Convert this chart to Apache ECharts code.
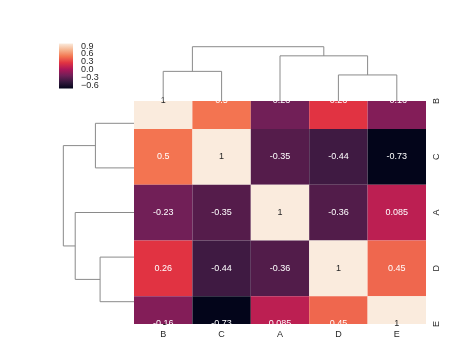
<!DOCTYPE html>
<html>
<head>
<meta charset="utf-8">
<script src="https://cdn.jsdelivr.net/npm/echarts@6/dist/echarts.min.js"></script>
<style>html,body{margin:0;padding:0;background:#fff;}#c{width:474px;height:364px;}</style>
</head>
<body>
<div id="c"></div>
<script>
const cols = ['B', 'C', 'A', 'D', 'E'];
const rows = ['B', 'C', 'A', 'D', 'E'];
const corrB = [1, 0.5, -0.23, 0.26, -0.16];
const corrC = [0.5, 1, -0.35, -0.44, -0.73];
const corrA = [-0.23, -0.35, 1, -0.36, 0.085];
const corrD = [0.26, -0.44, -0.36, 1, 0.45];
const corrE = [-0.16, -0.73, 0.085, 0.45, 1];
const corr = [corrB, corrC, corrA, corrD, corrE];
const cbarTicks = [-0.6, -0.3, 0.0, 0.3, 0.6, 0.9];
const vmin = -0.73, vmax = 1;
// dendrogram links (scipy-style icoord / dcoord)
const linkX = [[5, 5, 15, 15], [35, 35, 45, 45], [25, 25, 40, 40], [10, 10, 32.5, 32.5]];
const linkH = [[0, 0.546, 0.546, 0], [0, 0.48, 0.48, 0], [0, 0.832, 0.832, 0.48], [0.546, 1, 1, 0.832]];
const rocket = ['#03051a', '#35193e', '#701f57', '#ad1759', '#e13342', '#f37651', '#f6b48f', '#faebdd'];

const FONT = 'Liberation Sans, Arial, sans-serif';
const TXT = '#262626';
const DCOL = '#8a8a8a';

const cells = [];
rows.forEach((r, ri) => cols.forEach((c, ci) => cells.push([ci, ri, corr[ri][ci]])));

function relLum(c) {
  const a = echarts.color.parse(c);
  const f = x => { x /= 255; return x <= 0.03928 ? x / 12.92 : Math.pow((x + 0.055) / 1.055, 2.4); };
  return 0.2126 * f(a[0]) + 0.7152 * f(a[1]) + 0.0722 * f(a[2]);
}
function fmt2g(v) { return String(parseFloat(v.toPrecision(2))); }

const chart = echarts.init(document.getElementById('c'), null, {renderer: 'canvas'});

const series = [];
series.push({
  type: 'custom', xAxisIndex: 0, yAxisIndex: 0, data: cells, encode: {x: 0, y: 1},
  silent: true, animation: false,
  renderItem: function (params, api) {
    const x = api.value(0), y = api.value(1), v = api.value(2);
    const p1 = api.coord([x - 0.5, y - 0.5]);
    const p2 = api.coord([x + 0.5, y + 0.5]);
    const cs = params.coordSys;
    const rect = echarts.graphic.clipRectByRect({
      x: Math.min(p1[0], p2[0]), y: Math.min(p1[1], p2[1]),
      width: Math.abs(p2[0] - p1[0]), height: Math.abs(p2[1] - p1[1])
    }, {x: cs.x, y: cs.y, width: cs.width, height: cs.height});
    const color = api.visual('color');
    const ctr = api.coord([x, y]);
    const children = [];
    if (rect) children.push({type: 'rect', shape: rect, style: {fill: color}});
    children.push({type: 'text', x: ctr[0], y: ctr[1], style: {
      text: fmt2g(v), fill: relLum(color) > 0.408 ? TXT : '#ffffff',
      font: '9px ' + FONT, align: 'center', verticalAlign: 'middle'}});
    return {type: 'group', children: children};
  }
});
series.push({
  type: 'custom', xAxisIndex: 1, yAxisIndex: 1, data: [[0, vmin, 1, vmax]],
  silent: true, animation: false,
  renderItem: function (params, api) {
    const p1 = api.coord([0, vmax]);
    const p2 = api.coord([1, vmin]);
    const stops = rocket.map((c, i) => ({offset: 1 - i / (rocket.length - 1), color: c})).reverse();
    return {type: 'rect', shape: {x: p1[0], y: p1[1], width: p2[0] - p1[0], height: p2[1] - p1[1]},
      style: {fill: new echarts.graphic.LinearGradient(0, 0, 0, 1, stops)}};
  }
});
// colorbar tick labels, placed through the colorbar axis scale
series.push({
  type: 'custom', xAxisIndex: 1, yAxisIndex: 1, data: cbarTicks.map(v => [1, v]),
  silent: true, animation: false,
  renderItem: function (params, api) {
    const v = api.value(1);
    const p = api.coord([1, v]);
    return {type: 'text', x: p[0] + 8, y: p[1], style: {
      text: (v < 0 ? '\u2212' : '') + Math.abs(v).toFixed(1), fill: TXT,
      font: '9px ' + FONT, align: 'left', verticalAlign: 'middle'}};
  }
});
linkX.forEach((xs, i) => {
  series.push({type: 'line', xAxisIndex: 2, yAxisIndex: 2, showSymbol: false, silent: true, animation: false,
    data: xs.map((x, j) => [x, linkH[i][j]]), lineStyle: {color: DCOL, width: 1}});
  series.push({type: 'line', xAxisIndex: 3, yAxisIndex: 3, showSymbol: false, silent: true, animation: false,
    data: xs.map((x, j) => [linkH[i][j], x]), lineStyle: {color: DCOL, width: 1}});
});

const idx = [0, 1, 2, 3, 4];
chart.setOption({
  animation: false,
  visualMap: {show: false, seriesIndex: 0, dimension: 2, min: vmin, max: vmax, inRange: {color: rocket}},
  grid: [
    {left: 134, top: 101, width: 292, height: 223},
    {left: 59, top: 43.5, width: 14, height: 45},
    {left: 134, top: 44, width: 292, height: 57},
    {left: 59.8, top: 101, width: 74.2, height: 223}
  ],
  xAxis: [
    {gridIndex: 0, type: 'value', min: -0.5, max: 4.5, position: 'bottom',
      axisLine: {show: false}, splitLine: {show: false}, axisTick: {show: false},
      axisLabel: {customValues: idx, formatter: v => cols[Math.round(v)], color: TXT, fontSize: 9, fontFamily: FONT, margin: 6}},
    {gridIndex: 1, type: 'value', min: 0, max: 1, show: false},
    {gridIndex: 2, type: 'value', min: 0, max: 50, show: false},
    {gridIndex: 3, type: 'value', min: 0, max: 1.05, inverse: true, show: false}
  ],
  yAxis: [
    {gridIndex: 0, type: 'value', min: 0, max: 4, inverse: true, position: 'right',
      axisLine: {show: false}, splitLine: {show: false},
      axisTick: {show: true, customValues: idx, length: 3.5, lineStyle: {color: TXT, width: 1}},
      axisLabel: {customValues: idx, formatter: v => rows[Math.round(v)], rotate: 90, color: TXT, fontSize: 9, fontFamily: FONT, margin: 6,
        showMinLabel: true, showMaxLabel: true, hideOverlap: false}},
    {gridIndex: 1, type: 'value', min: vmin, max: vmax, position: 'right',
      axisLine: {show: false}, splitLine: {show: false},
      axisTick: {show: true, customValues: cbarTicks, length: 3.5, lineStyle: {color: TXT, width: 1}},
      axisLabel: {show: false}},
    {gridIndex: 2, type: 'value', min: 0, max: 1.05, show: false},
    {gridIndex: 3, type: 'value', min: 0, max: 50, inverse: true, show: false}
  ],
  series: series
});
</script>
</body>
</html>
